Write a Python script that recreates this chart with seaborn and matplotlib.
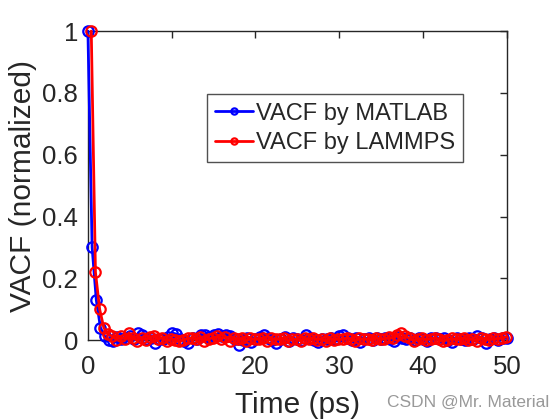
import numpy as np
import matplotlib
matplotlib.use("Agg")
import matplotlib.pyplot as plt
import seaborn as sns

# time grids (ps)
time_matlab = np.arange(0, 50.01, 0.5)
time_lammps = np.arange(0.4, 50.0, 0.5)

vacf_matlab = [
    1.0, 0.30, 0.13, 0.04, 0.012, 0.002, -0.004, 0.010, 0.003, 0.008,
    0.014, 0.005, 0.022, 0.016, 0.004, 0.008, -0.008, 0.004, 0.003, 0.010,
    0.024, 0.020, 0.004, -0.002, -0.010, 0.008, 0.003, 0.016, 0.018, 0.010,
    0.016, 0.020, 0.012, 0.018, 0.014, 0.004, -0.014, 0.002, 0.008, -0.006,
    0.004, 0.010, 0.018, 0.008, 0.002, -0.008, 0.003, 0.010, -0.002, 0.006,
    0.004, 0.002, 0.016, 0.008, 0.002, -0.006, 0.004, 0.003, 0.008, 0.004,
    0.012, 0.016, 0.008, 0.002, 0.006, -0.006, 0.003, 0.008, 0.002, 0.006,
    0.003, 0.008, 0.004, -0.002, 0.010, 0.006, 0.003, 0.008, 0.002, 0.006,
    0.003, -0.002, 0.006, 0.008, 0.003, 0.006, 0.002, -0.006, 0.006, 0.003,
    0.002, 0.008, 0.004, 0.014, 0.006, -0.008, 0.003, 0.008, 0.002, 0.006,
    0.006,
]
vacf_lammps = [
    1.0, 0.22, 0.10, 0.04, 0.020, 0.012, 0.002, 0.012, 0.004, 0.024,
    0.008, -0.002, 0.008, 0.002, 0.010, 0.014, 0.004, 0.008, -0.003, 0.004,
    0.002, -0.004, 0.001, 0.006, 0.008, 0.003, 0.010, -0.002, 0.004, 0.008,
    0.012, 0.005, 0.010, -0.004, 0.008, 0.003, 0.006, -0.002, 0.006, 0.003,
    0.004, 0.008, -0.003, 0.006, 0.003, 0.004, 0.008, -0.002, 0.004, 0.003,
    -0.002, 0.006, 0.003, 0.008, 0.002, 0.004, -0.003, 0.006, 0.002, 0.004,
    0.003, 0.008, 0.004, -0.003, 0.006, 0.003, 0.004, 0.002, 0.008, 0.003,
    0.004, 0.010, 0.006, 0.016, 0.024, 0.012, 0.006, -0.002, 0.003, 0.006,
    0.002, 0.004, 0.008, 0.003, -0.003, 0.002, 0.006, 0.003, 0.004, 0.008,
    0.002, 0.004, -0.003, 0.008, 0.004, 0.002, 0.006, 0.004, 0.008, 0.010,
]

series_labels = ["VACF by MATLAB", "VACF by LAMMPS"]
x_ticks = [0, 10, 20, 30, 40, 50]
y_ticks = [0, 0.2, 0.4, 0.6, 0.8, 1]
y_ticklabels = ["0", "0.2", "0.4", "0.6", "0.8", "1"]

sns.set_style("white")
plt.rcParams["font.family"] = ["Liberation Sans", "DejaVu Sans"]

fig = plt.figure(figsize=(5.6, 4.2), dpi=100)
ax = fig.add_axes([0.157, 0.19, 0.748, 0.736])

for t, v, c, lab in [(time_matlab, vacf_matlab, "#0000ff", series_labels[0]),
                     (time_lammps, vacf_lammps, "#ff0000", series_labels[1])]:
    sns.lineplot(x=t, y=v, ax=ax, color=c, linewidth=2, marker="o",
                 markersize=7.5, markerfacecolor="none", markeredgecolor=c,
                 markeredgewidth=1.6, label=lab, sort=False, clip_on=False)

ax.set_xlim(0, 50)
ax.set_ylim(0, 1)
ax.set_xticks(x_ticks)
ax.set_yticks(y_ticks)
ax.set_yticklabels(y_ticklabels)
ax.tick_params(direction="in", top=True, right=True, length=5, width=1,
               labelsize=18.5, colors="#262626")
ax.tick_params(axis="x", pad=11)
ax.tick_params(axis="y", pad=7)
for s in ax.spines.values():
    s.set_color("#262626")
    s.set_linewidth(1)
    s.set_zorder(0.5)
ax.set_xlabel("Time (ps)", fontsize=21.5, color="#262626", labelpad=8)
ax.set_ylabel("VACF (normalized)", fontsize=21.5, color="#262626", labelpad=4)

leg = ax.legend(loc="upper left", bbox_to_anchor=(0.284, 0.795), fontsize=17,
                frameon=True, fancybox=False, edgecolor="#262626",
                handlelength=1.6, handletextpad=0.12, borderpad=0.35,
                labelspacing=0.3, markerscale=0.6, borderaxespad=0)
leg.get_frame().set_linewidth(1)

fig.text(0.98, 0.025, "CSDN @Mr. Material", ha="right", va="bottom",
         fontsize=12.5, color="#999999")

fig.savefig("out.png", dpi=100)
